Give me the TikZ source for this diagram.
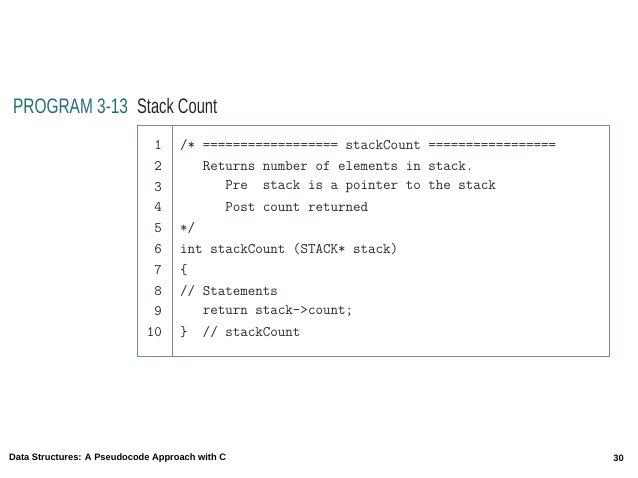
\documentclass[tikz,border=0pt]{standalone}
\usepackage{fontspec}
\setsansfont{Liberation Sans}
\definecolor{teal1}{HTML}{1F6E75}
\definecolor{frame}{HTML}{6F8F9C}
\definecolor{code}{HTML}{1E2A30}
\begin{document}
\begin{tikzpicture}[x=1pt,y=-1pt,
  ln/.style={anchor=east,font=\fontsize{14.5}{16}\selectfont\ttfamily,text=code,inner sep=0},
  cl/.style={anchor=west,font=\fontsize{14.6}{16}\selectfont\ttfamily,text=code,inner sep=0}]
\useasboundingbox (0,0) rectangle (638,478);
\node[anchor=west,inner sep=0,font=\fontsize{21}{24}\selectfont\sffamily,text=teal1,xscale=0.735] (title) at (13,106) {PROGRAM 3-13};
\node[anchor=west,inner sep=0,font=\fontsize{21}{24}\selectfont\sffamily,text=black!85,xscale=0.70] (sub) at (137,106) {Stack Count};
\draw[frame,line width=1pt] (137,126) rectangle (609,357);
\draw[frame,line width=1pt] (172,126) -- (172,357);
\foreach \i/\t in {1/{/* ================== stackCount =================},
  2/{\ \ \ Returns number of elements in stack.},
  3/{\ \ \ \ \ \ Pre\ \ stack is a pointer to the stack},
  4/{\ \ \ \ \ \ Post count returned},
  5/{*/},
  6/{int stackCount (STACK* stack)},
  7/{\{},
  8/{// Statements},
  9/{\ \ \ return stack->count;},
  10/{\}\ \ // stackCount}}{
  \node[ln] (n\i) at (162,{145+20.8*(\i-1)}) {\i};
  \node[cl] (c\i) at (180,{145+20.8*(\i-1)}) {\t};
}
\node[anchor=west,inner sep=0,font=\bfseries\fontsize{9.3}{11}\selectfont\sffamily] (foot) at (9,458) {Data Structures: A Pseudocode Approach with C};
\node[anchor=east,inner sep=0,font=\bfseries\fontsize{9.3}{11}\selectfont\sffamily] (pg) at (624,458) {30};
\end{tikzpicture}
\end{document}
